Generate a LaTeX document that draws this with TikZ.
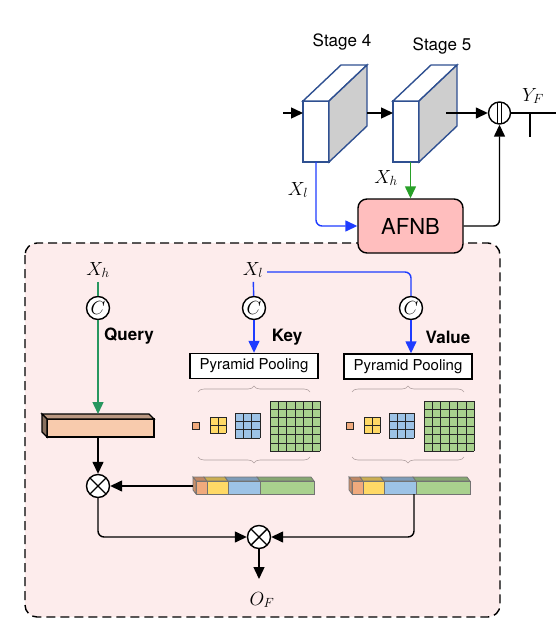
\RequirePackage{fix-cm}
\documentclass[tikz,border=0pt]{standalone}
\usepackage{fontspec}
\setmainfont{TeX Gyre Heros}
\usepackage{tikz}
\usetikzlibrary{positioning,arrows.meta,decorations.pathreplacing}
\definecolor{stageblue}{RGB}{47,80,145}
\definecolor{sidegray}{RGB}{206,206,206}
\definecolor{afnbpink}{RGB}{255,190,190}
\definecolor{bgpink}{RGB}{253,236,236}
\definecolor{xblue}{RGB}{30,60,255}
\definecolor{xgreen}{RGB}{40,160,40}
\definecolor{qgreen}{RGB}{40,150,95}
\definecolor{peach}{RGB}{248,203,173}
\definecolor{pcorange}{RGB}{240,170,125}
\definecolor{pcyellow}{RGB}{255,217,102}
\definecolor{pcblue}{RGB}{157,195,230}
\definecolor{pcgreen}{RGB}{169,209,142}
\definecolor{bracegray}{RGB}{175,160,160}

\begin{document}
\begin{tikzpicture}[x=1pt ,y=-1pt ,line width=1.4pt ,>={Triangle[length=12pt,width=11pt]} ,lbl/.style ={font=\fontsize{17}{20}\selectfont} ,boldlbl/.style ={font=\fontsize{17}{20}\selectfont\bfseries} ,mathlbl/.style ={font=\fontsize{19}{22}\selectfont} ,stagefront/.style ={draw=stageblue ,fill=white ,minimum width=26pt ,minimum height=61pt ,inner sep=0pt ,outer sep=0pt} ,afnb/.style ={draw ,rounded corners=9pt ,fill=afnbpink ,minimum width=105pt ,minimum height=54pt ,font=\fontsize{22}{26}\selectfont} ,ppbox/.style ={draw ,fill=white ,minimum width=128pt ,minimum height=25pt ,inner sep=0pt ,font=\fontsize{15}{18}\selectfont} ,op/.style ={circle ,draw ,fill=white ,minimum size=23pt ,inner sep=0pt ,font=\fontsize{19}{22}\selectfont} ,otimes/.style ={op ,path picture={\draw (path picture bounding box.north west) -- (path picture bounding box.south east) (path picture bounding box.north east) -- (path picture bounding box.south west);}} ,concat/.style ={op ,minimum size=22pt ,path picture={\draw ([xshift=-2pt]path picture bounding box.north) -- ([xshift=-2pt]path picture bounding box.south) ([xshift=2pt]path picture bounding box.north) -- ([xshift=2pt]path picture bounding box.south);}} ,cell/.style ={draw=black!85 ,line width=0.9pt} ,barline/.style ={draw=black!55 ,line width=0.7pt} ,brc/.style ={draw=bracegray ,line width=0.6pt ,decorate ,decoration={brace ,amplitude=6pt}}]
\useasboundingbox (0,0) rectangle (556,631);

% backbone
\node[lbl] (stage4) at (342,42) {Stage 4};
\node[lbl] (stage5) at (442,46) {Stage 5};
\node[stagefront] (st4) at (316,131.5) {};
\node[stagefront] (st5) at (406,131.5) {};
\foreach \s in {st4,st5} {
  \filldraw[stageblue, fill=white] (\s.north west) -- ++(38,-36) -- ++(26,0) -- (\s.north east) -- cycle;
  \filldraw[stageblue, fill=sidegray] (\s.north east) -- ++(38,-36) -- ++(0,61) -- (\s.south east) -- cycle;
}
\node[concat] (cat) at (499.5,113) {};
\coordinate (in) at (283,113);
\coordinate (st4out) at (367,113);
\coordinate (st5out) at (446,113);
\coordinate (yend) at (556,113);
\coordinate (ytick) at (530,137);
\draw[->] (in) -- (in -| st4.west);
\draw[->] (st4out) -- (st4out -| st5.west);
\draw[->] (st5out) -- (cat);
\draw (cat) -- (yend);
\draw (ytick) -- (ytick |- cat);
\node[mathlbl] (yf) at (533,96) {$Y_F$};

% AFNB block
\draw[dashed ,dash pattern=on 9pt off 5pt ,rounded corners=12pt ,fill=bgpink] (25,243) rectangle (500,617);
\node[afnb] (afnb) at (410.5,226) {AFNB};
\node[mathlbl] (xl) at (298,190) {$X_l$};
\node[mathlbl] (xh) at (386,178) {$X_h$};
\draw[xblue ,-> ,rounded corners=6pt] (st4.south) |- (afnb.west);
\draw[xgreen ,->] (afnb.north |- st5.south) -- (afnb.north);
\draw[-> ,rounded corners=6pt] (afnb.east) -| (cat.south);

% query
\node[mathlbl] (xhq) at (98,270) {$X_h$};
\node[op] (cq) at (98,308) {$C$};
\node[boldlbl] (query) at (129,336) {Query};
\node[draw ,fill=peach ,minimum width=107pt ,minimum height=18pt ,inner sep=0pt ,outer sep=0pt] (qbox) at (100.5,428) {};
\filldraw[fill=peach!75!black] (qbox.north west) -- ++(-5,-5) -- ++(107,0) -- (qbox.north east) -- cycle;
\filldraw[fill=peach!55!black] (qbox.north west) -- ++(-5,-5) -- ++(0,18) -- (qbox.south west) -- cycle;
\coordinate (qtop) at (98,414);
\draw[qgreen] (xhq) -- (cq);
\draw[qgreen ,->] (cq) -- (qtop);

% key and value
\node[mathlbl] (xlk) at (253,270) {$X_l$};
\node[op] (ck) at (254,308) {$C$};
\node[op] (cv) at (411,308) {$C$};
\node[boldlbl] (key) at (287,337) {Key};
\node[boldlbl] (value) at (448,337) {Value};
\node[ppbox] (ppkey) at (254,366) {Pyramid Pooling};
\node[ppbox] (ppvalue) at (408,366.5) {Pyramid Pooling};
\draw[xblue] (xlk) -- (ck);
\draw[xblue ,rounded corners=6pt] ([yshift=-2pt]xlk.east) -| (cv);
\draw[xblue ,->] (ck) -- (ck |- ppkey.north);
\draw[xblue ,->] (cv) -- (cv |- ppvalue.north);

\foreach \dx in {0,154} {
  \draw[brc] (198+\dx,392) -- (310+\dx,392);
  \draw[brc] (310+\dx,457) -- (198+\dx,457);
  \foreach \gx/\gy/\n/\c/\col in {192/422/1/7.5/pcorange, 210/417/2/8/pcyellow, 235/413/3/8.4/pcblue, 270/401/6/8.4/pcgreen} {
    \fill[\col] (\gx+\dx,\gy) rectangle ++(\n*\c,\n*\c);
    \foreach \i in {0,...,\n} {
      \draw[cell] (\gx+\dx+\i*\c,\gy) -- ++(0,\n*\c);
      \draw[cell] (\gx+\dx,\gy+\i*\c) -- ++(\n*\c,0);
    }
  }
}
\foreach \bx/\nm in {196/key,352/value} {
  \foreach \a/\b/\col in {0/11/pcorange, 11/32/pcyellow, 32/64/pcblue, 64/118/pcgreen} {
    \filldraw[barline ,fill=\col!80!black] (\bx+\a,481) -- (\bx+\a-3,477) -- (\bx+\b-3,477) -- (\bx+\b,481) -- cycle;
    \filldraw[barline ,fill=\col] (\bx+\a,481) rectangle (\bx+\b,494);
  }
  \filldraw[barline ,fill=pcorange!85!black] (\bx,481) -- (\bx-3,477) -- (\bx-3,490) -- (\bx,494) -- cycle;
  \node[inner sep=0pt ,outer sep=0pt ,minimum width=121pt ,minimum height=13pt] (bar\nm) at (\bx+57.5,487.5) {};
}

% products
\node[otimes] (mul1) at (98,486) {};
\node[otimes] (mul2) at (259,537) {};
\coordinate (vout) at (414,494);
\coordinate (ofin) at (259,579);
\node[mathlbl] (of) at (262,600) {$O_F$};
\draw[->] (qbox.south -| mul1) -- (mul1);
\draw[->] (mul1 -| barkey.west) -- (mul1);
\draw[-> ,rounded corners=6pt] (mul1) |- (mul2);
\draw[-> ,rounded corners=6pt] (vout) |- (mul2);
\draw[->] (mul2) -- (ofin);
\end{tikzpicture}
\end{document}
